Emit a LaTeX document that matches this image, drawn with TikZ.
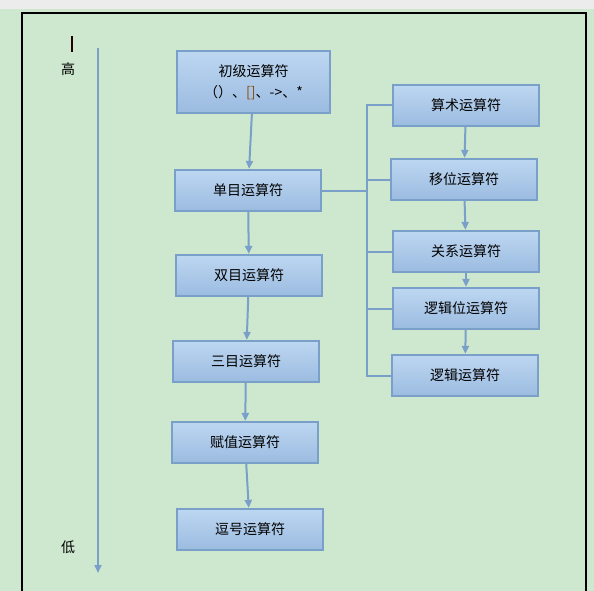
\documentclass[tikz,border=0pt]{standalone}
\usepackage{fontspec}
\setmainfont{Noto Sans CJK SC}
\usetikzlibrary{arrows.meta}
\definecolor{bg}{HTML}{CDE8CF}
\definecolor{boxtop}{HTML}{BDD7F1}
\definecolor{boxbot}{HTML}{9BBBE0}
\definecolor{edge}{HTML}{7A9FC8}
\definecolor{brn}{HTML}{8A4A10}
\tikzset{
  op/.style={draw=edge, line width=2.2pt, top color=boxtop, bottom color=boxbot,
    minimum width=146pt, minimum height=41pt, inner sep=0pt, font=\fontsize{14}{16}\selectfont},
  link/.style={draw=edge, line width=2pt},
  arr/.style={link, -{Triangle[length=8pt,width=7pt]}}
}
\begin{document}
\begin{tikzpicture}[x=1pt,y=-1pt]
    \useasboundingbox (0,0) rectangle (594,591);
    \fill [bg] (0,0) rectangle (594,591);
    \fill [gray!15] (0,0) rectangle (594,9);
    \draw [black, line width=1.2pt] (22,591) -- (22,13) -- (586,13) -- (586,591);
    % axis
    \coordinate (top) at (98,48);
    \coordinate (bot) at (98,573);
    \draw [arr] (top) -- (bot);
    \draw [black!85!red, line width=2pt] (72,36) -- (72,52);
    \node (hi) at (68,69) {\fontsize{14}{16}\selectfont 高};
    \node (lo) at (68,547) {\fontsize{14}{16}\selectfont 低};
    % left column
    \node [op, minimum width=153pt, minimum height=62pt, align=center] (chuji) at (253.5,82)
      {初级运算符\\[5pt]（）、{\color{brn}[]}、->、*};
    \node [op] (danmu) at (248,190.5) {单目运算符};
    \node [op] (shuang) at (249,275.5) {双目运算符};
    \node [op] (sanmu) at (246,361.5) {三目运算符};
    \node [op] (fuzhi) at (245,442.5) {赋值运算符};
    \node [op] (douhao) at (250,529.5) {逗号运算符};
    % right column
    \node [op] (suanshu) at (466,105.5) {算术运算符};
    \node [op] (yiwei) at (464,179.5) {移位运算符};
    \node [op] (guanxi) at (466,251.5) {关系运算符};
    \node [op] (luojiwei) at (466,308.5) {逻辑位运算符};
    \node [op] (luoji) at (465,375.5) {逻辑运算符};
    \draw [arr] (chuji) -- (danmu);
    \draw [arr] (danmu) -- (shuang);
    \draw [arr] (shuang) -- (sanmu);
    \draw [arr] (sanmu) -- (fuzhi);
    \draw [arr] (fuzhi) -- (douhao);
    \draw [arr] (suanshu) -- (yiwei);
    \draw [arr] (yiwei) -- (guanxi);
    \draw [arr] (guanxi) -- (luojiwei);
    \draw [arr] (luojiwei) -- (luoji);
    % bracket
    \coordinate (br) at (367,105.5);
    \draw [link] (suanshu.west) -- (br) |- (luoji.west);
    \draw [link] (danmu.east) -- (danmu.east -| br);
    \draw [link] (yiwei.west) -- (yiwei.west -| br);
    \draw [link] (guanxi.west) -- (guanxi.west -| br);
    \draw [link] (luojiwei.west) -- (luojiwei.west -| br);
  \end{tikzpicture}
\end{document}
